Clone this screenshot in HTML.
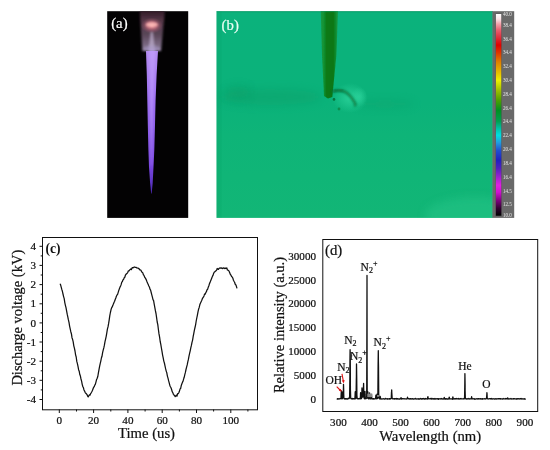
<!DOCTYPE html>
<html><head><meta charset="utf-8"><title>Figure</title>
<style>
html,body{margin:0;padding:0;background:#fff;}
svg{display:block;}
text{font-family:"Liberation Serif",serif;}
.k text{stroke:#111;stroke-width:0.22px;}
</style></head><body>
<svg width="550" height="450" viewBox="0 0 550 450">
<defs>
<linearGradient id="cbar" x1="0" y1="0" x2="0" y2="1"><stop offset="0.0%" stop-color="#ffffff"/><stop offset="2.5%" stop-color="#fbe4e8"/><stop offset="5.0%" stop-color="#f4a0aa"/><stop offset="7.9%" stop-color="#ea6070"/><stop offset="10.9%" stop-color="#e03848"/><stop offset="15.4%" stop-color="#e00000"/><stop offset="18.9%" stop-color="#e03000"/><stop offset="23.8%" stop-color="#e08000"/><stop offset="29.3%" stop-color="#e8c000"/><stop offset="32.8%" stop-color="#f0f000"/><stop offset="37.8%" stop-color="#a0c000"/><stop offset="42.7%" stop-color="#50a000"/><stop offset="47.7%" stop-color="#009020"/><stop offset="53.2%" stop-color="#00a050"/><stop offset="56.6%" stop-color="#00c0a0"/><stop offset="60.1%" stop-color="#00e0e0"/><stop offset="63.6%" stop-color="#20a0e0"/><stop offset="67.6%" stop-color="#2050d0"/><stop offset="72.5%" stop-color="#2020c0"/><stop offset="76.5%" stop-color="#5020c0"/><stop offset="81.0%" stop-color="#a020d0"/><stop offset="84.9%" stop-color="#e020e0"/><stop offset="88.4%" stop-color="#d010d0"/><stop offset="92.4%" stop-color="#800080"/><stop offset="96.4%" stop-color="#300030"/><stop offset="99.9%" stop-color="#000000"/></linearGradient>
<linearGradient id="jet" x1="0" y1="0" x2="0" y2="1">
<stop offset="0" stop-color="#b48cf0"/><stop offset="0.35" stop-color="#9a6cf0"/><stop offset="0.8" stop-color="#7a48e0"/><stop offset="1" stop-color="#4a28b0"/></linearGradient>
<linearGradient id="noz" x1="0" y1="0" x2="0" y2="1">
<stop offset="0" stop-color="#2c1824"/><stop offset="0.25" stop-color="#553646"/><stop offset="0.6" stop-color="#5a4658"/><stop offset="0.9" stop-color="#80708a"/><stop offset="1" stop-color="#9a8aa8"/></linearGradient>
<linearGradient id="needle" x1="0" y1="0" x2="1" y2="0">
<stop offset="0" stop-color="#169a44"/><stop offset="0.2" stop-color="#129030"/><stop offset="0.32" stop-color="#0a7a18"/><stop offset="0.72" stop-color="#0a7614"/><stop offset="0.84" stop-color="#10882c"/><stop offset="1" stop-color="#169a44"/></linearGradient>
<linearGradient id="bg" x1="0" y1="0" x2="0" y2="1"><stop offset="0" stop-color="#0bb27c"/><stop offset="0.45" stop-color="#0bb27a"/><stop offset="0.6" stop-color="#0eb478"/><stop offset="1" stop-color="#12b676"/></linearGradient>
<radialGradient id="pink"><stop offset="0" stop-color="#f09aa0" stop-opacity="1"/><stop offset="0.45" stop-color="#c87080" stop-opacity="0.75"/><stop offset="1" stop-color="#905068" stop-opacity="0"/></radialGradient>
<filter id="b4" x="-50%" y="-100%" width="200%" height="300%"><feGaussianBlur stdDeviation="4"/></filter>
<radialGradient id="glow"><stop offset="0" stop-color="#30d8a0" stop-opacity="0.9"/><stop offset="1" stop-color="#30d8a0" stop-opacity="0"/></radialGradient>
<radialGradient id="dk"><stop offset="0" stop-color="#089a60" stop-opacity="0.8"/><stop offset="1" stop-color="#089a60" stop-opacity="0"/></radialGradient>
<filter id="b1" x="-50%" y="-50%" width="200%" height="200%"><feGaussianBlur stdDeviation="1"/></filter>
<filter id="b05" x="-50%" y="-50%" width="200%" height="200%"><feGaussianBlur stdDeviation="0.6"/></filter>
<filter id="b2" x="-50%" y="-50%" width="200%" height="200%"><feGaussianBlur stdDeviation="2"/></filter>
<clipPath id="ca"><rect x="107.2" y="11.2" width="81" height="206.7"/></clipPath>
<clipPath id="cb"><rect x="216.5" y="11.2" width="276.4" height="206.7"/></clipPath>
</defs>
<rect width="550" height="450" fill="#fff"/>

<!-- (a) -->
<rect x="107.2" y="11.2" width="81" height="206.7" fill="#030203"/>
<g clip-path="url(#ca)">
<polygon points="139.7,10 165,10 161,51 142.3,51" fill="url(#noz)" filter="url(#b1)"/>
<ellipse cx="151.8" cy="25.5" rx="11" ry="8" fill="url(#pink)"/>
<ellipse cx="151.8" cy="24.6" rx="6" ry="2.3" fill="#ffbcb8" opacity="0.85" filter="url(#b1)"/>
<polygon points="150.6,32 153,32 155,51 148.4,51" fill="#cdbfe0" opacity="0.6" filter="url(#b1)"/><ellipse cx="151.8" cy="48.5" rx="8" ry="3" fill="#a594c8" opacity="0.5" filter="url(#b1)"/>
<polygon points="146,51 158,51 156.6,75 155.6,100 155,125 154.3,150 153.5,167 152.7,183 151.7,193 151.4,194 151.1,193 150.1,183 149,167 148.4,150 147.8,125 147.3,100 146.8,75" fill="url(#jet)" filter="url(#b05)"/>
<polygon points="149.3,50 155.5,50 153,110 151.8,165 151.2,165 150,110" fill="#c8a8ff" opacity="0.5" filter="url(#b1)"/>
</g>
<text x="111.2" y="27.7" font-size="14.8" fill="#fff" style="stroke:#fff;stroke-width:0.2px">(a)</text>

<!-- (b) -->
<rect x="216.5" y="11.2" width="276.4" height="206.7" fill="url(#bg)"/>
<g clip-path="url(#cb)">
<ellipse cx="270" cy="97" rx="52" ry="8" fill="#089a64" opacity="0.35" filter="url(#b4)"/>
<ellipse cx="238" cy="92" rx="12" ry="6" fill="#089a64" opacity="0.35" filter="url(#b4)"/>
<ellipse cx="385" cy="104" rx="30" ry="4" fill="#089a64" opacity="0.3" filter="url(#b4)"/>
<ellipse cx="475" cy="215" rx="50" ry="18" fill="#2cc88c" opacity="0.45" filter="url(#b4)"/>
<rect x="216" y="11" width="4" height="207" fill="#079a60" opacity="0.35" filter="url(#b2)"/>
<ellipse cx="350" cy="98" rx="18" ry="15" fill="url(#glow)" opacity="0.85"/>
<ellipse cx="359" cy="97" rx="8" ry="10" fill="url(#glow)" opacity="0.7"/>
<polygon points="320.7,10 338,10 336.4,55 332.3,97 328,98.5 324,96 322,55" fill="url(#needle)" filter="url(#b05)"/>
<path d="M332.5,91.5 Q344,87.5 351,97 T354,105" fill="none" stroke="#097a40" stroke-width="2.6" opacity="0.85" filter="url(#b1)"/>
<path d="M332.5,91.5 Q338,89.5 343,90.5" fill="none" stroke="#08703a" stroke-width="2.4" opacity="0.6" filter="url(#b1)"/>
<circle cx="334" cy="99.4" r="1.3" fill="#07602a" opacity="0.8" filter="url(#b05)"/>
<circle cx="339" cy="109" r="1.4" fill="#08803c" opacity="0.7" filter="url(#b05)"/>
</g>
<rect x="216.6" y="11.2" width="276.4" height="1" fill="#088a58" opacity="0.5"/>
<rect x="492.4" y="11.2" width="21.8" height="206.7" fill="#696969"/>
<rect x="495.4" y="13.5" width="6.4" height="202.7" fill="#585858"/><rect x="495.9" y="14" width="5.4" height="201.7" fill="url(#cbar)"/>
<g font-size="5.1" fill="#e4e4e4" style="font-family:'Liberation Sans',sans-serif"><text x="502.9" y="15.9">40.0</text><text x="502.9" y="26.7">38.4</text><text x="502.9" y="40.7">36.4</text><text x="502.9" y="54.3">34.4</text><text x="502.9" y="68.3">32.4</text><text x="502.9" y="82.4">30.4</text><text x="502.9" y="95.9">28.4</text><text x="502.9" y="109.7">26.4</text><text x="502.9" y="123.4">24.4</text><text x="502.9" y="137.4">22.4</text><text x="502.9" y="150.9">20.4</text><text x="502.9" y="164.9">18.4</text><text x="502.9" y="178.9">16.4</text><text x="502.9" y="192.9">14.5</text><text x="502.9" y="206.4">12.5</text><text x="502.9" y="216.7">10.0</text></g>
<text x="221.6" y="30" font-size="14.8" fill="#e8fff4" style="stroke:#e8fff4;stroke-width:0.2px">(b)</text>

<!-- (c) -->
<g class="k">
<g stroke="#111" stroke-width="1" fill="none">
<rect x="42.5" y="237.5" width="215" height="172.3"/>
<line x1="59.3" y1="409.5" x2="59.3" y2="413"/><line x1="93.6" y1="409.5" x2="93.6" y2="413"/><line x1="127.9" y1="409.5" x2="127.9" y2="413"/><line x1="162.2" y1="409.5" x2="162.2" y2="413"/><line x1="196.5" y1="409.5" x2="196.5" y2="413"/><line x1="230.8" y1="409.5" x2="230.8" y2="413"/><line x1="76.5" y1="409.5" x2="76.5" y2="411.5"/><line x1="110.8" y1="409.5" x2="110.8" y2="411.5"/><line x1="145.1" y1="409.5" x2="145.1" y2="411.5"/><line x1="179.4" y1="409.5" x2="179.4" y2="411.5"/><line x1="213.6" y1="409.5" x2="213.6" y2="411.5"/><line x1="247.9" y1="409.5" x2="247.9" y2="411.5"/><line x1="42.5" y1="399.5" x2="39.5" y2="399.5"/><line x1="42.5" y1="380.3" x2="39.5" y2="380.3"/><line x1="42.5" y1="361.2" x2="39.5" y2="361.2"/><line x1="42.5" y1="342.0" x2="39.5" y2="342.0"/><line x1="42.5" y1="322.9" x2="39.5" y2="322.9"/><line x1="42.5" y1="303.8" x2="39.5" y2="303.8"/><line x1="42.5" y1="284.6" x2="39.5" y2="284.6"/><line x1="42.5" y1="265.4" x2="39.5" y2="265.4"/><line x1="42.5" y1="246.3" x2="39.5" y2="246.3"/><line x1="42.5" y1="389.9" x2="40.7" y2="389.9"/><line x1="42.5" y1="370.8" x2="40.7" y2="370.8"/><line x1="42.5" y1="351.6" x2="40.7" y2="351.6"/><line x1="42.5" y1="332.5" x2="40.7" y2="332.5"/><line x1="42.5" y1="313.3" x2="40.7" y2="313.3"/><line x1="42.5" y1="294.2" x2="40.7" y2="294.2"/><line x1="42.5" y1="275.0" x2="40.7" y2="275.0"/><line x1="42.5" y1="255.9" x2="40.7" y2="255.9"/>
<path d="M60.0,283.7 L60.6,284.8 L61.2,287.1 L61.8,289.4 L62.4,291.3 L63.0,294.0 L63.6,296.6 L64.2,298.6 L64.8,302.6 L65.4,305.3 L66.0,307.7 L66.6,310.9 L67.2,314.2 L67.8,316.9 L68.4,319.9 L69.0,322.4 L69.6,326.1 L70.2,328.8 L70.8,331.7 L71.4,333.7 L72.0,337.7 L72.6,339.4 L73.2,341.8 L73.8,345.8 L74.4,348.2 L75.0,351.0 L75.6,354.8 L76.2,357.0 L76.8,361.4 L77.4,363.6 L78.0,366.3 L78.6,369.7 L79.2,371.2 L79.8,374.6 L80.4,376.1 L81.0,379.0 L81.6,381.1 L82.2,384.3 L82.8,386.5 L83.4,387.6 L84.0,390.0 L84.6,391.1 L85.2,392.6 L85.8,393.2 L86.4,393.8 L87.0,394.6 L87.6,396.1 L88.2,396.9 L88.8,395.8 L89.4,394.9 L90.0,395.2 L90.6,393.6 L91.2,392.8 L91.8,391.8 L92.4,390.5 L93.0,389.1 L93.6,387.3 L94.2,386.8 L94.8,385.1 L95.4,384.2 L96.0,381.9 L96.6,379.5 L97.2,378.2 L97.8,376.5 L98.4,372.8 L99.0,369.6 L99.6,366.4 L100.2,363.6 L100.8,361.1 L101.4,358.0 L102.0,356.3 L102.6,352.7 L103.2,350.1 L103.8,347.9 L104.4,345.2 L105.0,341.7 L105.6,339.1 L106.2,336.3 L106.8,332.9 L107.4,329.1 L108.0,326.9 L108.6,323.7 L109.2,319.8 L109.8,315.6 L110.4,312.5 L111.0,309.8 L111.6,307.9 L112.2,306.9 L112.8,305.6 L113.4,303.9 L114.0,302.5 L114.6,301.2 L115.2,299.5 L115.8,298.0 L116.4,296.2 L117.0,295.0 L117.6,294.4 L118.2,292.4 L118.8,290.4 L119.4,288.8 L120.0,287.1 L120.6,286.0 L121.2,284.4 L121.8,282.1 L122.4,281.5 L123.0,279.8 L123.6,279.4 L124.2,277.7 L124.8,277.2 L125.4,275.2 L126.0,274.3 L126.6,273.7 L127.2,273.2 L127.8,272.3 L128.4,270.8 L129.0,270.8 L129.6,270.1 L130.2,269.4 L130.8,268.9 L131.4,269.5 L132.0,268.1 L132.6,267.6 L133.2,267.8 L133.8,267.3 L134.4,267.0 L135.0,267.3 L135.6,267.3 L136.2,267.4 L136.8,267.9 L137.4,268.0 L138.0,268.0 L138.6,268.6 L139.2,268.9 L139.8,269.8 L140.4,269.9 L141.0,270.3 L141.6,271.9 L142.2,272.2 L142.8,272.9 L143.4,274.8 L144.0,275.4 L144.6,277.1 L145.2,277.9 L145.8,278.9 L146.4,280.1 L147.0,281.8 L147.6,283.2 L148.2,284.4 L148.8,286.0 L149.4,287.0 L150.0,289.2 L150.6,290.1 L151.2,292.5 L151.8,294.8 L152.4,297.1 L153.0,299.6 L153.6,300.6 L154.2,304.2 L154.8,307.4 L155.4,310.7 L156.0,313.5 L156.6,317.7 L157.2,322.0 L157.8,324.6 L158.4,329.5 L159.0,333.9 L159.6,337.2 L160.2,341.5 L160.8,344.4 L161.4,348.0 L162.0,351.4 L162.6,355.1 L163.2,357.9 L163.8,361.1 L164.4,363.0 L165.0,365.8 L165.6,368.7 L166.2,371.1 L166.8,372.8 L167.4,376.1 L168.0,378.1 L168.6,380.7 L169.2,382.8 L169.8,385.2 L170.4,386.8 L171.0,387.8 L171.6,389.5 L172.2,391.7 L172.8,392.6 L173.4,394.3 L174.0,395.1 L174.6,395.5 L175.2,396.7 L175.8,396.0 L176.4,395.2 L177.0,396.2 L177.6,393.7 L178.2,393.7 L178.8,392.7 L179.4,391.3 L180.0,389.1 L180.6,388.6 L181.2,385.8 L181.8,384.0 L182.4,382.6 L183.0,381.3 L183.6,379.1 L184.2,377.3 L184.8,374.6 L185.4,372.4 L186.0,369.5 L186.6,367.2 L187.2,364.9 L187.8,361.8 L188.4,359.4 L189.0,356.2 L189.6,353.4 L190.2,350.8 L190.8,347.9 L191.4,345.4 L192.0,342.3 L192.6,340.1 L193.2,336.4 L193.8,333.4 L194.4,330.1 L195.0,327.5 L195.6,324.8 L196.2,321.0 L196.8,318.0 L197.4,315.1 L198.0,311.9 L198.6,309.2 L199.2,307.4 L199.8,304.8 L200.4,303.2 L201.0,302.0 L201.6,300.8 L202.2,299.1 L202.8,297.9 L203.4,297.2 L204.0,295.9 L204.6,294.0 L205.2,294.2 L205.8,292.6 L206.4,291.7 L207.0,289.7 L207.6,289.4 L208.2,287.3 L208.8,286.0 L209.4,283.8 L210.0,282.6 L210.6,280.9 L211.2,279.4 L211.8,278.1 L212.4,276.4 L213.0,275.4 L213.6,273.5 L214.2,272.3 L214.8,271.8 L215.4,271.2 L216.0,270.8 L216.6,270.0 L217.2,268.5 L217.8,269.1 L218.4,269.3 L219.0,268.4 L219.6,268.0 L220.2,268.2 L220.8,267.8 L221.4,268.3 L222.0,268.0 L222.6,268.6 L223.2,268.3 L223.8,267.8 L224.4,268.4 L225.0,268.6 L225.6,268.1 L226.2,268.3 L226.8,267.9 L227.4,270.0 L228.0,270.2 L228.6,270.5 L229.2,271.5 L229.8,273.1 L230.4,274.5 L231.0,275.2 L231.6,276.5 L232.2,277.0 L232.8,278.0 L233.4,280.2 L234.0,281.3 L234.6,282.3 L235.2,284.2 L235.8,284.7 L236.4,286.3 L237.0,288.4" stroke-width="1.25" stroke-linejoin="round"/>
</g>
<g font-size="11.1" fill="#111"><text x="59.3" y="423.5" text-anchor="middle">0</text><text x="93.6" y="423.5" text-anchor="middle">20</text><text x="127.9" y="423.5" text-anchor="middle">40</text><text x="162.2" y="423.5" text-anchor="middle">60</text><text x="196.5" y="423.5" text-anchor="middle">80</text><text x="230.8" y="423.5" text-anchor="middle">100</text><text x="36" y="403.1" text-anchor="end">-4</text><text x="36" y="383.9" text-anchor="end">-3</text><text x="36" y="364.8" text-anchor="end">-2</text><text x="36" y="345.6" text-anchor="end">-1</text><text x="36" y="326.5" text-anchor="end">0</text><text x="36" y="307.4" text-anchor="end">1</text><text x="36" y="288.2" text-anchor="end">2</text><text x="36" y="269.1" text-anchor="end">3</text><text x="36" y="249.9" text-anchor="end">4</text></g>
<text x="45.4" y="253.4" font-size="13.6" font-weight="bold" fill="#111" style="stroke:none">(c)</text>
<text x="146.5" y="438.3" font-size="14.7" text-anchor="middle" fill="#111">Time (us)</text>
<text transform="translate(22.3,317.7) rotate(-90)" font-size="14.5" text-anchor="middle" fill="#111">Discharge voltage (kV)</text>

<!-- (d) -->
<g stroke="#111" stroke-width="1" fill="none">
<rect x="322.8" y="239.5" width="214.9" height="172"/>
<path d="M337.0,398.5 L337.3,399.1 L337.6,398.6 L337.9,398.9 L338.1,399.0 L338.4,398.9 L338.7,398.7 L339.0,399.0 L339.3,398.8 L339.5,398.9 L339.8,398.9 L340.1,398.5 L340.4,398.7 L340.7,398.6 L340.9,398.6 L341.0,397.9 L341.2,393.4 L341.2,393.6 L341.4,390.8 L341.5,392.9 L341.5,393.1 L341.7,398.0 L341.8,398.1 L342.1,398.9 L342.3,398.5 L342.4,398.5 L342.6,395.1 L342.6,395.2 L342.8,391.7 L342.9,394.3 L342.9,394.9 L343.1,397.6 L343.2,397.3 L343.4,390.3 L343.5,385.4 L343.5,384.3 L343.7,390.4 L343.7,393.6 L343.9,398.0 L344.0,398.6 L344.3,398.8 L344.6,398.6 L344.8,399.0 L345.1,399.0 L345.4,398.6 L345.7,398.7 L346.0,398.6 L346.2,398.9 L346.5,398.7 L346.8,399.0 L347.1,398.8 L347.4,399.1 L347.6,398.7 L347.9,398.9 L348.2,398.3 L348.5,398.6 L348.8,398.7 L349.0,398.5 L349.3,398.4 L349.6,396.9 L349.7,391.4 L349.9,374.8 L349.9,365.1 L350.1,349.7 L350.2,353.1 L350.3,365.0 L350.4,389.4 L350.5,392.0 L350.7,398.1 L351.0,398.7 L351.3,398.8 L351.6,398.8 L351.8,398.9 L352.1,398.4 L352.4,398.9 L352.7,398.6 L353.0,399.0 L353.2,398.6 L353.5,398.8 L353.8,398.7 L354.1,398.7 L354.4,398.7 L354.6,399.0 L354.9,398.6 L354.9,398.3 L355.1,395.3 L355.2,392.5 L355.3,391.6 L355.4,394.6 L355.5,396.5 L355.6,398.6 L355.8,398.7 L356.0,397.6 L356.1,395.3 L356.3,380.4 L356.4,376.7 L356.5,364.0 L356.6,369.8 L356.7,376.6 L356.9,395.3 L356.9,395.4 L357.2,398.5 L357.4,398.5 L357.7,398.8 L358.0,398.9 L358.3,398.8 L358.6,398.6 L358.8,398.8 L359.1,398.9 L359.4,398.5 L359.7,398.6 L360.0,398.8 L360.2,398.6 L360.3,398.7 L360.5,395.6 L360.5,394.6 L360.6,392.6 L360.8,395.6 L360.8,395.7 L361.0,398.4 L361.1,398.6 L361.4,398.7 L361.6,398.0 L361.7,397.3 L361.9,391.9 L361.9,390.3 L362.0,387.9 L362.2,391.8 L362.2,391.7 L362.4,397.0 L362.4,396.9 L362.5,397.2 L362.7,393.2 L362.8,390.8 L362.8,390.0 L363.0,393.3 L363.0,394.9 L363.2,396.9 L363.2,396.8 L363.3,394.7 L363.4,389.0 L363.6,383.4 L363.6,383.6 L363.7,389.1 L363.9,395.0 L364.0,397.2 L364.2,398.2 L364.4,398.8 L364.6,398.6 L364.7,397.8 L364.8,395.3 L365.0,391.7 L365.0,391.5 L365.1,394.9 L365.3,397.9 L365.4,398.4 L365.6,398.7 L365.8,398.8 L366.1,398.5 L366.4,398.4 L366.6,397.4 L366.7,396.4 L366.8,366.3 L367.0,282.6 L367.0,275.4 L367.1,366.4 L367.2,393.1 L367.4,397.7 L367.5,398.0 L367.5,398.2 L367.7,395.1 L367.8,393.2 L367.9,391.8 L368.0,395.1 L368.1,396.0 L368.3,398.5 L368.3,398.6 L368.6,398.9 L368.9,398.8 L369.2,398.4 L369.2,398.5 L369.4,395.9 L369.5,395.2 L369.6,393.0 L369.7,395.9 L369.7,395.9 L370.0,398.7 L370.0,398.7 L370.3,398.8 L370.6,398.8 L370.9,398.9 L371.1,398.7 L371.1,398.6 L371.3,396.7 L371.4,395.1 L371.5,394.5 L371.6,396.7 L371.7,397.5 L371.9,398.7 L372.0,398.8 L372.3,398.8 L372.5,398.9 L372.8,398.6 L373.1,399.1 L373.4,398.7 L373.7,398.7 L373.9,398.7 L374.2,399.0 L374.5,398.9 L374.8,398.9 L375.1,398.6 L375.3,398.7 L375.5,398.4 L375.6,398.4 L375.7,397.1 L375.9,395.1 L375.9,395.5 L376.0,396.9 L376.2,398.4 L376.2,398.9 L376.5,398.5 L376.6,398.4 L376.7,397.8 L376.8,396.6 L377.0,394.2 L377.0,394.2 L377.1,396.5 L377.3,398.3 L377.4,398.6 L377.6,398.1 L377.9,395.0 L377.9,392.1 L378.1,366.0 L378.1,366.0 L378.3,350.7 L378.4,361.3 L378.5,365.9 L378.7,391.8 L378.7,393.8 L379.0,398.4 L379.3,398.5 L379.5,398.8 L379.8,398.6 L379.9,398.9 L380.1,397.7 L380.1,397.3 L380.2,396.5 L380.4,397.4 L380.4,397.3 L380.6,398.8 L380.7,399.0 L380.9,398.9 L381.2,399.0 L381.5,399.0 L381.8,398.8 L382.1,398.9 L382.3,399.0 L382.6,398.8 L382.9,398.9 L383.2,398.9 L383.5,398.9 L383.7,398.7 L384.0,398.8 L384.3,399.0 L384.6,398.8 L384.9,399.0 L385.1,398.9 L385.4,398.6 L385.7,398.4 L386.0,398.9 L386.3,398.9 L386.5,398.8 L386.8,398.9 L387.1,398.7 L387.4,399.0 L387.7,398.8 L387.9,399.1 L388.2,398.8 L388.5,398.9 L388.8,398.8 L389.1,398.8 L389.3,398.7 L389.6,399.1 L389.9,398.7 L390.2,399.0 L390.5,398.7 L390.7,398.4 L391.0,398.6 L391.3,397.4 L391.3,397.4 L391.5,392.4 L391.6,391.8 L391.7,390.0 L391.8,392.7 L391.8,392.8 L392.1,397.2 L392.1,398.0 L392.4,398.7 L392.7,398.8 L393.0,398.6 L393.2,398.8 L393.5,398.9 L393.8,398.6 L394.1,398.7 L394.4,399.0 L394.6,398.6 L394.9,398.8 L395.2,398.7 L395.5,398.9 L395.8,398.8 L396.0,398.5 L396.3,398.4 L396.6,399.1 L396.9,398.7 L397.2,399.0 L397.4,398.6 L397.7,398.8 L398.0,398.8 L398.3,398.9 L398.6,398.9 L398.8,399.2 L399.1,399.1 L399.4,398.8 L399.7,398.9 L400.0,399.1 L400.2,398.8 L400.5,398.6 L400.7,398.6 L400.8,398.5 L400.9,398.0 L401.1,397.6 L401.1,397.7 L401.2,398.0 L401.4,398.5 L401.4,398.8 L401.6,399.0 L401.9,398.6 L402.2,398.9 L402.5,398.8 L402.8,398.6 L403.0,398.7 L403.3,398.6 L403.6,398.9 L403.9,398.8 L404.2,398.7 L404.4,398.9 L404.7,398.8 L405.0,398.9 L405.3,398.9 L405.6,398.8 L405.8,398.8 L406.1,399.0 L406.4,399.0 L406.7,398.9 L407.0,398.9 L407.2,398.6 L407.2,398.7 L407.4,398.0 L407.5,397.2 L407.6,397.6 L407.7,398.1 L407.8,398.3 L408.0,398.5 L408.1,398.7 L408.4,398.7 L408.6,398.8 L408.9,398.6 L409.2,398.9 L409.5,399.0 L409.8,398.6 L410.0,399.0 L410.3,399.0 L410.6,398.8 L410.9,398.6 L411.2,398.8 L411.4,399.0 L411.7,398.9 L412.0,398.9 L412.3,398.8 L412.6,398.6 L412.8,399.0 L413.1,398.8 L413.4,399.1 L413.7,398.9 L414.0,398.8 L414.2,398.9 L414.5,398.9 L414.8,399.0 L415.1,398.7 L415.3,398.4 L415.6,398.9 L415.9,398.9 L416.2,398.8 L416.5,398.9 L416.7,399.1 L417.0,398.9 L417.3,398.8 L417.6,398.9 L417.9,399.0 L418.1,398.8 L418.4,399.0 L418.7,398.7 L419.0,399.1 L419.3,398.9 L419.5,398.8 L419.8,399.0 L420.1,398.8 L420.4,398.5 L420.7,398.8 L420.9,398.9 L421.2,399.0 L421.5,398.7 L421.8,399.0 L422.1,398.7 L422.3,399.0 L422.6,398.7 L422.9,398.8 L423.2,398.5 L423.5,398.9 L423.7,398.9 L424.0,399.0 L424.3,398.8 L424.6,399.0 L424.9,398.6 L425.1,398.5 L425.4,398.9 L425.7,398.6 L426.0,399.0 L426.3,398.8 L426.5,398.6 L426.8,398.9 L427.1,398.7 L427.4,399.0 L427.6,398.3 L427.7,398.0 L427.8,397.3 L427.9,396.7 L428.0,396.8 L428.1,397.4 L428.2,397.8 L428.3,398.5 L428.5,398.7 L428.8,398.9 L429.1,398.8 L429.3,398.9 L429.6,398.7 L429.9,398.7 L430.2,398.7 L430.5,398.4 L430.7,398.8 L431.0,399.1 L431.3,398.4 L431.6,399.0 L431.9,398.7 L432.1,398.5 L432.4,399.0 L432.7,398.9 L433.0,398.7 L433.3,398.8 L433.5,398.6 L433.8,399.1 L434.1,399.0 L434.4,399.0 L434.7,398.6 L434.9,398.5 L435.2,398.8 L435.5,399.0 L435.8,399.0 L436.1,398.7 L436.3,398.8 L436.6,398.8 L436.9,398.9 L437.2,398.8 L437.5,398.6 L437.7,399.1 L438.0,399.1 L438.3,398.9 L438.6,399.2 L438.9,398.6 L439.1,398.8 L439.4,398.9 L439.7,398.9 L440.0,398.9 L440.2,398.8 L440.5,399.0 L440.8,398.8 L441.1,398.5 L441.4,398.8 L441.6,398.8 L441.9,398.6 L442.2,399.1 L442.5,398.8 L442.8,398.9 L443.0,398.8 L443.3,399.1 L443.6,399.0 L443.9,398.8 L443.9,398.7 L444.1,397.8 L444.2,397.6 L444.3,397.5 L444.4,398.1 L444.4,398.2 L444.6,398.7 L444.7,399.0 L445.0,399.0 L445.3,398.6 L445.6,398.9 L445.8,399.0 L446.1,399.0 L446.4,398.7 L446.7,398.8 L447.0,399.0 L447.2,398.9 L447.5,399.1 L447.8,398.9 L448.1,399.0 L448.4,399.0 L448.6,398.9 L448.9,398.5 L448.9,398.6 L449.1,397.7 L449.2,397.2 L449.2,397.4 L449.4,397.8 L449.5,398.3 L449.6,398.8 L449.8,398.6 L450.0,399.0 L450.3,398.9 L450.6,398.9 L450.9,398.9 L451.2,398.8 L451.4,398.8 L451.7,398.9 L452.0,398.9 L452.3,399.2 L452.5,399.0 L452.6,398.7 L452.7,397.7 L452.8,397.0 L452.9,396.9 L453.1,397.8 L453.1,398.0 L453.3,398.7 L453.4,399.0 L453.7,398.8 L454.0,398.8 L454.2,399.0 L454.5,398.6 L454.8,398.6 L455.1,398.6 L455.4,398.8 L455.6,398.6 L455.9,399.0 L456.2,398.9 L456.5,398.5 L456.8,398.8 L457.0,398.9 L457.3,398.9 L457.6,398.6 L457.9,398.9 L458.2,399.0 L458.4,398.8 L458.7,398.4 L459.0,398.8 L459.3,398.8 L459.6,399.0 L459.8,399.0 L460.1,398.8 L460.4,398.6 L460.7,398.8 L461.0,398.5 L461.2,398.9 L461.5,398.9 L461.8,398.8 L462.1,398.9 L462.4,398.8 L462.6,398.8 L462.9,398.8 L463.2,398.9 L463.5,398.6 L463.7,398.8 L464.0,399.0 L464.3,398.9 L464.6,397.1 L464.6,396.6 L464.8,384.3 L464.9,375.9 L464.9,373.6 L465.1,384.1 L465.1,389.9 L465.3,397.0 L465.4,398.5 L465.7,398.8 L466.0,398.9 L466.3,398.9 L466.5,399.0 L466.8,398.7 L467.1,399.0 L467.4,398.8 L467.7,398.9 L467.9,398.8 L468.2,398.5 L468.5,398.9 L468.8,398.9 L469.1,398.8 L469.3,399.0 L469.6,398.8 L469.9,398.7 L470.2,398.9 L470.5,398.9 L470.7,398.9 L471.0,398.9 L471.2,398.4 L471.3,398.2 L471.5,397.9 L471.6,396.7 L471.6,396.8 L471.8,397.6 L471.9,398.1 L472.0,398.7 L472.1,398.9 L472.4,398.9 L472.7,398.9 L473.0,398.6 L473.3,398.8 L473.5,398.9 L473.8,398.9 L474.1,399.0 L474.4,398.7 L474.7,399.2 L474.9,398.9 L475.2,399.1 L475.5,399.0 L475.8,399.1 L476.1,399.0 L476.3,398.9 L476.6,398.8 L476.9,398.7 L477.2,398.7 L477.5,398.8 L477.7,398.9 L478.0,399.1 L478.3,398.7 L478.6,398.7 L478.9,398.8 L479.1,398.7 L479.4,398.8 L479.7,398.8 L480.0,399.0 L480.3,399.0 L480.5,398.6 L480.8,398.9 L481.1,398.6 L481.4,399.0 L481.7,398.9 L481.9,398.8 L482.2,399.2 L482.5,398.8 L482.8,398.6 L483.1,398.9 L483.3,398.9 L483.6,398.8 L483.9,398.9 L484.2,398.7 L484.5,398.8 L484.7,398.9 L485.0,398.7 L485.3,399.0 L485.6,398.9 L485.9,398.8 L486.1,398.8 L486.4,398.7 L486.5,398.2 L486.7,396.1 L486.8,395.1 L486.9,392.7 L487.0,393.3 L487.1,395.0 L487.2,397.8 L487.3,398.2 L487.5,398.8 L487.8,398.7 L488.1,398.8 L488.4,399.0 L488.6,398.9 L488.9,398.9 L489.2,398.9 L489.5,398.6 L489.8,398.7 L490.0,398.6 L490.3,398.6 L490.6,398.7 L490.9,399.1 L491.2,398.9 L491.4,398.8 L491.7,398.5 L492.0,398.9 L492.3,399.0 L492.6,399.0 L492.8,398.9 L493.1,398.9 L493.4,398.7 L493.7,398.9 L494.0,398.8 L494.2,399.0 L494.5,399.1 L494.8,398.9 L495.1,398.7 L495.4,398.8 L495.6,398.8 L495.9,399.1 L496.2,398.7 L496.5,399.0 L496.8,398.8 L497.0,398.9 L497.3,398.7 L497.6,398.9 L497.9,398.9 L498.2,398.7 L498.4,398.7 L498.7,398.7 L499.0,398.8 L499.3,398.7 L499.6,398.7 L499.8,398.9 L500.1,399.0 L500.4,398.6 L500.7,398.9 L501.0,399.0 L501.2,398.9 L501.5,398.8 L501.8,398.9 L502.1,398.8 L502.4,398.8 L502.6,399.0 L502.9,399.0 L503.2,398.5 L503.5,398.8 L503.8,398.8 L504.0,398.8 L504.3,398.8 L504.6,398.8 L504.9,398.8 L505.2,398.7 L505.4,399.0 L505.7,398.9 L506.0,398.5 L506.3,398.9 L506.6,398.8 L506.8,398.6 L507.1,398.8 L507.3,398.9 L507.4,398.5 L507.5,398.3 L507.7,397.8 L507.7,398.0 L507.8,398.0 L508.0,398.3 L508.0,399.0 L508.2,399.1 L508.5,398.8 L508.8,398.9 L509.1,398.8 L509.4,398.8 L509.6,398.8 L509.9,399.0 L510.2,398.9 L510.5,398.8 L510.7,398.8 L511.0,398.5 L511.3,398.7 L511.6,399.0 L511.9,398.8 L512.1,398.9 L512.4,399.0 L512.7,398.9 L513.0,398.8 L513.3,399.0 L513.5,398.6 L513.8,398.8 L514.1,398.7 L514.4,398.7 L514.7,398.8 L514.9,398.8 L515.2,398.8 L515.5,398.8 L515.8,399.0 L516.1,399.1 L516.3,399.1 L516.6,398.7 L516.9,399.0 L517.2,398.8 L517.5,398.6 L517.7,399.0 L518.0,398.8 L518.3,398.8 L518.6,398.7 L518.9,398.7 L519.1,398.9 L519.4,398.9 L519.7,399.0 L520.0,398.7 L520.3,398.7 L520.5,398.6 L520.8,398.8 L521.1,398.4 L521.4,398.8 L521.7,399.0 L521.9,399.0 L522.2,398.9 L522.5,398.8 L522.8,399.0 L523.1,398.9 L523.3,399.0 L523.6,398.9 L523.9,398.9 L524.2,399.1 L524.5,398.9 L524.7,398.6 L525.0,398.9 L525.3,399.1 L525.6,398.8" stroke-width="1.3" stroke-linejoin="round"/>
</g>
<rect x="367.3" y="393.6" width="5" height="3.5" fill="#8a8a8a"/><rect x="377" y="395" width="2.2" height="1.8" fill="#8a8a8a"/><rect x="351" y="355" width="1.4" height="1.6" fill="#999"/><rect x="364.3" y="353" width="1.4" height="1.6" fill="#999"/>
<g stroke="#e01010" stroke-width="1.1" fill="#e01010">
<line x1="336.7" y1="386.7" x2="340.5" y2="390.5"/><polygon points="341.8,391.8 338.8,390.8 340.8,388.8" stroke="none"/>
<line x1="342" y1="373.9" x2="343.4" y2="381.5"/><polygon points="343.8,383.4 341.9,380.6 344.6,380.1" stroke="none"/>
</g>
<g font-size="11.1" fill="#111"><text x="338.4" y="425.6" text-anchor="middle">300</text><text x="369.5" y="425.6" text-anchor="middle">400</text><text x="400.5" y="425.6" text-anchor="middle">500</text><text x="431.6" y="425.6" text-anchor="middle">600</text><text x="462.7" y="425.6" text-anchor="middle">700</text><text x="493.8" y="425.6" text-anchor="middle">800</text><text x="524.9" y="425.6" text-anchor="middle">900</text><text x="316" y="402.6" text-anchor="end">0</text><text x="316" y="378.8" text-anchor="end">5000</text><text x="316" y="355.0" text-anchor="end">10000</text><text x="316" y="331.2" text-anchor="end">15000</text><text x="316" y="307.4" text-anchor="end">20000</text><text x="316" y="283.6" text-anchor="end">25000</text><text x="316" y="259.8" text-anchor="end">30000</text></g>
<g font-size="11.5" fill="#111">
<text x="325.5" y="384">OH</text>
<text x="337.3" y="370.6">N<tspan font-size="8" dy="2.5">2</tspan></text>
<text x="344.3" y="343.5">N<tspan font-size="8" dy="2.5">2</tspan></text>
<text x="350" y="360">N<tspan font-size="8" dy="2.5">2</tspan><tspan font-size="8" dy="-7.5">+</tspan></text>
<text x="360.6" y="270.5">N<tspan font-size="8" dy="2.5">2</tspan><tspan font-size="8" dy="-7.5">+</tspan></text>
<text x="373.6" y="346.4">N<tspan font-size="8" dy="2.5">2</tspan><tspan font-size="8" dy="-7.5">+</tspan></text>
<text x="465" y="370" text-anchor="middle">He</text>
<text x="486.3" y="387.5" text-anchor="middle">O</text>
</g>
<text x="325" y="254.7" font-size="14.8" fill="#111">(d)</text>
<text x="430.2" y="440.6" font-size="14.7" text-anchor="middle" fill="#111">Wavelength (nm)</text>
<text transform="translate(283.5,325) rotate(-90)" font-size="14.5" text-anchor="middle" fill="#111">Relative intensity (a.u.)</text>
</g>
</svg>
</body></html>
